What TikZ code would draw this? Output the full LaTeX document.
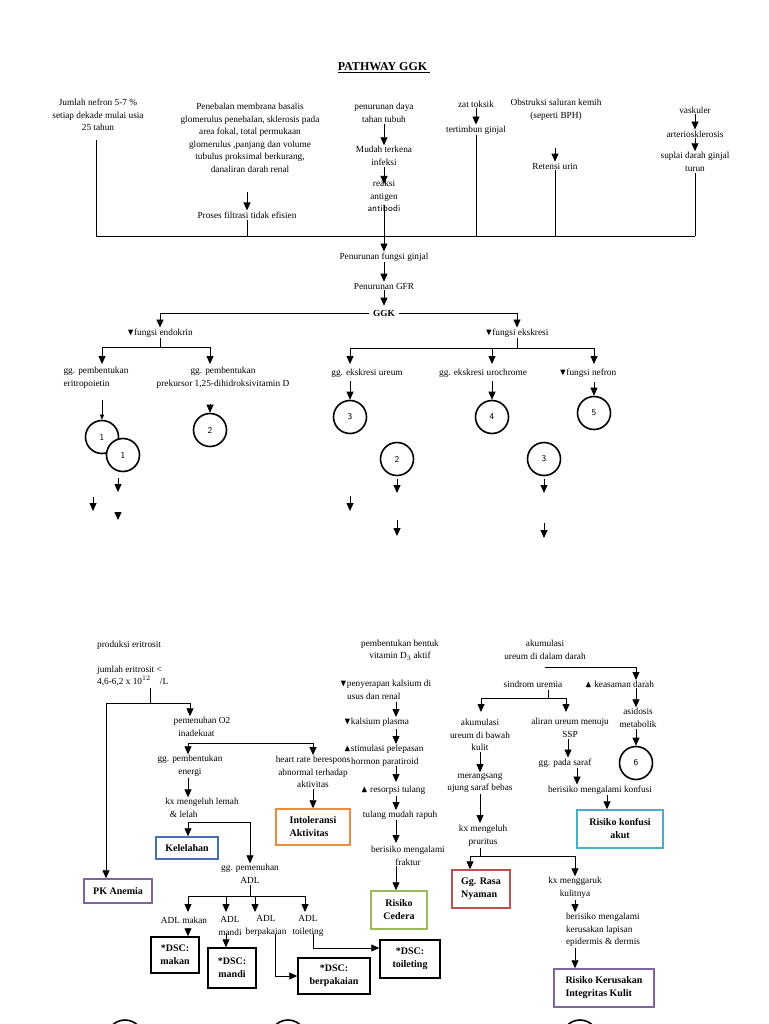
\documentclass[tikz,border=0pt]{standalone}
\usepackage{fontspec}
\usepackage{amssymb}
\setmainfont{Liberation Serif}
\usetikzlibrary{arrows.meta}
\begin{document}
\begin{tikzpicture}[x=1pt,y=-1pt,
 t/.style={font=\fontsize{9.3}{12.5}\selectfont,align=center,inner sep=1pt},
 tl/.style={t,align=left,anchor=west},
 ar/.style={-{Triangle[width=7pt,length=8pt]},line width=0.8pt},
 sa/.style={-{Triangle[width=4pt,length=5pt]},line width=0.5pt},
 ln/.style={line width=0.5pt},
 cir/.style={circle,draw,line width=1.6pt,minimum size=33pt,inner sep=0pt,font=\sffamily\fontsize{9}{10}\selectfont},
 bx/.style={draw,line width=1.5pt,font=\bfseries\fontsize{10}{13}\selectfont,align=center,inner sep=3pt}]
\useasboundingbox (0,0) rectangle (768,1024);
\clip (0,0) rectangle (768,1024);
\node[font=\bfseries\fontsize{12}{14}\selectfont] (title) at (384,68) {\underline{PATHWAY GGK\ }};
% top row
\node[t] (a1) at (98,115) {Jumlah nefron 5-7 \%\\setiap dekade mulai usia\\25 tahun};
\node[t] (a2) at (250,138) {Penebalan membrana basalis\\glomerulus penebalan, sklerosis pada\\area fokal,  total permukaan\\glomerulus ,panjang dan volume\\tubulus proksimal berkurang,\\danaliran darah renal};
\node[t] (a2b) at (247,215) {Proses filtrasi tidak efisien};
\node[t] (a3) at (384,113) {penurunan daya\\tahan tubuh};
\node[t] (a3b) at (384,156) {Mudah terkena\\infeksi};
\node[t] (a3c) at (384,196) {reaksi\\antigen\\{\sffamily antibodi}};
\node[t] (a4) at (476,104) {zat toksik};
\node[t] (a4b) at (476,130) {tertimbun ginjal};
\node[t] (a5) at (556,110) {Obstruksi saluran kemih\\(seperti BPH)};
\node[t] (a5b) at (555,166) {Retensi urin};
\node[t] (a6) at (695,110) {vaskuler};
\node[t] (a6b) at (695,134) {arteriosklerosis};
\node[t] (a6c) at (695,162) {suplai darah ginjal\\turun};
\draw[ar] (247,192) -- (a2b.north);
\draw[ar] (a3) -- (a3b);
\draw[ar] (a3b.south) -- (384,184);
\draw[ar] (a4) -- (a4b);
\draw[ar] (555,148) -- (a5b.north);
\draw[ar] (a6) -- (a6b);
\draw[ar] (a6b) -- (a6c);
\draw[ln] (96,140) -- (96,236) -- (695,236);
\draw[ln] (a2b.south) -- (247,236);
\draw[ln] (384,205) -- (384,236);
\draw[ln] (a4b.south) -- (476,236);
\draw[ln] (a5b.south) -- (555,236);
\draw[ln] (a6c.south) -- (695,236);
\node[t] (b1) at (384,257) {Penurunan fungsi ginjal};
\node[t] (b2) at (384,286) {Penurunan GFR};
\node[t,font=\bfseries\fontsize{9.3}{10}\selectfont,inner sep=4pt] (ggk) at (384,313) {GGK};
\draw[ar] (384,236) -- (b1.north);
\draw[ar] (b1) -- (b2);
\draw[ar] (b2) -- (ggk);
\node[t] (endo) at (160,333) {$\blacktriangledown$fungsi endokrin};
\node[t] (eks) at (517,333) {$\blacktriangledown$fungsi ekskresi};
\draw[ar] (ggk.west) -- (ggk.west -| endo) -- (endo.north);
\draw[ar] (ggk.east) -- (ggk.east -| eks) -- (eks.north);
\node[t,align=left] (c1) at (96,378) {gg. pembentukan\\eritropoietin};
\node[t] (c2) at (223,378) {gg. pembentukan\\prekursor 1,25-dihidroksivitamin D};
\draw[ln] (endo.south) -- (160,347);
\draw[ar] (160,347) -- (102,347) -- (102,364);
\draw[ar] (160,347) -- (210,347) -- (210,364);
\node[t] (c3) at (367,373) {gg. ekskresi ureum};
\node[t] (c4) at (483,373) {gg. ekskresi urochrome};
\node[t] (c5) at (588,373) {$\blacktriangledown$fungsi nefron};
\draw[ln] (eks.south) -- (517,348);
\draw[ar] (517,348) -- (350,348) -- (350,364);
\draw[ar] (517,348) -- (492,348) -- (492,364);
\draw[ar] (517,348) -- (594,348) -- (594,364);
\node[cir] (k1) at (102,437) {1};
\node[cir,fill=white] (k1b) at (123,455) {1};
\node[cir] (k2) at (210,430) {2};
\node[cir] (k3) at (350,417) {3};
\node[cir] (k4) at (492,417) {4};
\node[cir] (k5) at (594,413) {5};
\node[cir] (k2b) at (397,459) {2};
\node[cir] (k3b) at (544,459) {3};
\draw[sa] (102,400) -- (k1.north);
\draw[ar] (210,404) -- (k2.north);
\draw[ar] (350,381) -- (k3.north);
\draw[ar] (492,381) -- (k4.north);
\draw[ar] (594,382) -- (k5.north);
\coordinate (e1) at (118,492); \draw[ar] (118,478) -- (e1);
\coordinate (e2) at (93,511); \draw[ar] (93,497) -- (e2);
\coordinate (e3) at (118,520); \draw[ar] (118,512) -- (e3);
\coordinate (e4) at (397,493); \draw[ar] (397,479) -- (e4);
\coordinate (e5) at (350,511); \draw[ar] (350,496) -- (e5);
\coordinate (e6) at (397,536); \draw[ar] (397,520) -- (e6);
\coordinate (e7) at (544,493); \draw[ar] (544,479) -- (e7);
\coordinate (e8) at (544,538); \draw[ar] (544,523) -- (e8);
% bottom left
\node[tl] (d1) at (96,645) {produksi eritrosit};
\node[tl] (d2) at (96,676) {jumlah eritrosit <\\4,6-6,2 x 10$^{12}$\quad /L};
\node[t,align=left] (d3) at (202,727) {pemenuhan O2\\\ \ inadekuat};
\draw[ln] (150,688) -- (150,703);
\node[bx,draw={rgb,255:red,128;green,100;blue,162},minimum width=68pt,minimum height=24pt] (pk) at (118,891) {PK Anemia};
\draw[ar] (150,703) -- (106,703) -- (pk.north -| 106,0);
\draw[ar] (150,703) -- (190,703) -- (d3.north -| 190,0);
\node[t] (d4) at (190,766) {gg. pembentukan\\energi};
\node[t] (d5) at (313,772) {heart rate berespons\\abnormal terhadap\\aktivitas};
\draw[ln] (188,743) -- (313,743);
\draw[ar] (188,743) -- (d4.north -| 188,0);
\draw[ar] (313,743) -- (d5.north);
\node[t,align=left] (d6) at (202,808) {kx mengeluh lemah\\\ \ \& lelah};
\draw[ar] (d4.south -| 188,0) -- (d6.north -| 188,0);
\node[bx,draw={rgb,255:red,68;green,114;blue,176},minimum width=62pt,minimum height=22pt] (kel) at (187,848) {Kelelahan};
\node[bx,draw={rgb,255:red,237;green,140;blue,60},align=left,minimum width=74pt,minimum height=36pt] (int) at (313,827) {Intoleransi\\Aktivitas};
\draw[ar] (d5.south) -- (int.north);
\draw[ar] (188,822) -- (kel.north -| 188,0);
\node[t] (d7) at (250,874) {gg. pemenuhan\\ADL};
\draw[ar] (188,822) -- (250,822) -- (d7.north);
\draw[ln] (d7.south) -- (250,896);
\draw[ln] (188,896) -- (305,896);
\node[t] (f1) at (184,920) {ADL makan};
\node[t] (f2) at (230,926) {ADL\\mandi};
\node[t] (f3) at (266,926) {ADL\\berpakaian};
\node[t] (f4) at (308,926) {ADL\\toileting};
\draw[ar] (188,896) -- (188,912);
\draw[ar] (226,896) -- (226,912);
\draw[ar] (255,896) -- (255,912);
\draw[ar] (305,896) -- (305,912);
\node[bx,minimum width=48pt,minimum height=36pt] (g1) at (175,955) {*DSC:\\makan};
\node[bx,minimum width=48pt,minimum height=40pt] (g2) at (232,968) {*DSC:\\mandi};
\node[bx,minimum width=72pt,minimum height=36pt] (g3) at (334,976) {*DSC:\\berpakaian};
\node[bx,minimum width=60pt,minimum height=38pt] (g4) at (410,959) {*DSC:\\toileting};
\draw[ar] (188,928) -- (g1.north -| 188,0);
\draw[ar] (226,933) -- (g2.north -| 226,0);
\draw[ar] (275,934) -- (275,976) -- (g3.west |- 0,976);
\draw[ar] (313,934) -- (313,948) -- (g4.west |- 0,948);
\node[cir,minimum size=36pt] (h1) at (125,1038) {};
\node[cir,minimum size=36pt] (h2) at (288,1038) {};
\node[cir,minimum size=36pt] (h3) at (580,1038) {};
% middle column
\node[t] (m1) at (400,650) {pembentukan bentuk\\vitamin D$_3$ aktif};
\node[tl] (m2) at (339,690) {$\blacktriangledown$penyerapan kalsium di\\\ \ \ usus dan renal};
\node[tl] (m3) at (343,722) {$\blacktriangledown$kalsium plasma};
\node[tl] (m4) at (343,756) {$\blacktriangle$stimulasi pelepasan\\\ \ \ hormon paratiroid};
\node[tl] (m5) at (360,790) {$\blacktriangle$ resorpsi tulang};
\node[t] (m6) at (400,815) {tulang mudah rapuh};
\node[t] (m7) at (408,856) {berisiko mengalami\\fraktur};
\node[bx,draw={rgb,255:red,155;green,187;blue,89},minimum width=56pt,minimum height=38pt] (ced) at (399,910) {Risiko\\Cedera};
\draw[ar] (396,702) -- (396,717);
\draw[ar] (396,729) -- (396,744);
\draw[ar] (396,766) -- (396,782);
\draw[ar] (396,796) -- (396,810);
\draw[ar] (m6.south -| 396,0) -- (396,843);
\draw[ar] (396,866) -- (ced.north -| 396,0);
% right column
\node[t] (r1) at (545,650) {akumulasi\\ureum di dalam darah};
\node[t] (r2) at (533,684) {sindrom uremia};
\node[tl] (r3) at (584,684) {$\blacktriangle$ keasaman darah};
\node[t] (r4) at (638,718) {asidosis\\metabolik};
\draw[ar] (545,667) -- (636,667) -- (636,680);
\draw[ar] (636,688) -- (r4.north -| 636,0);
\node[cir] (k6) at (636,763) {6};
\draw[ar] (r4.south -| 636,0) -- (k6.north);
\node[t] (r5) at (480,735) {akumulasi\\ureum di bawah\\kulit};
\node[t] (r6) at (570,728) {aliran ureum menuju\\SSP};
\draw[ln] (548,690) -- (548,698);
\draw[ar] (548,698) -- (481,698) -- (481,712);
\draw[ar] (548,698) -- (566,698) -- (566,712);
\node[t] (r7) at (565,763) {gg. pada saraf};
\draw[ar] (r6.south -| 568,0) -- (r7.north -| 568,0);
\node[t] (r8) at (600,790) {berisiko mengalami konfusi};
\draw[ar] (r7.south -| 577,0) -- (r8.north -| 577,0);
\node[bx,draw={rgb,255:red,75;green,172;blue,198},minimum width=86pt,minimum height=38pt] (kon) at (620,829) {Risiko konfusi\\akut};
\draw[ar] (r8.south -| 607,0) -- (kon.north -| 607,0);
\node[t] (r9) at (480,783) {merangsang\\ujung saraf bebas};
\draw[ar] (r5.south) -- (r9.north);
\node[t] (r10) at (483,836) {kx mengeluh\\pruritus};
\draw[ar] (r9.south -| 480,0) -- (480,823);
\draw[ln] (r10.south -| 480,0) -- (480,856);
\draw[ln] (470,856) -- (575,856);
\node[bx,draw={rgb,255:red,192;green,80;blue,77},align=left,minimum width=58pt,minimum height=38pt] (nya) at (481,889) {Gg. Rasa\\Nyaman};
\draw[ar] (470,856) -- (nya.north -| 470,0);
\node[t] (r11) at (575,888) {kx menggaruk\\kulitnya};
\draw[ar] (575,856) -- (r11.north);
\node[t,align=left] (r12) at (603,930) {berisiko mengalami\\kerusakan lapisan\\epidermis \& dermis};
\draw[ar] (r11.south) -- (r12.north -| 575,0);
\node[bx,draw={rgb,255:red,128;green,100;blue,162},align=left,minimum width=100pt,minimum height=38pt] (kul) at (604,988) {Risiko Kerusakan\\Integritas Kulit};
\draw[ar] (r12.south -| 575,0) -- (kul.north -| 575,0);
\end{tikzpicture}
\end{document}
